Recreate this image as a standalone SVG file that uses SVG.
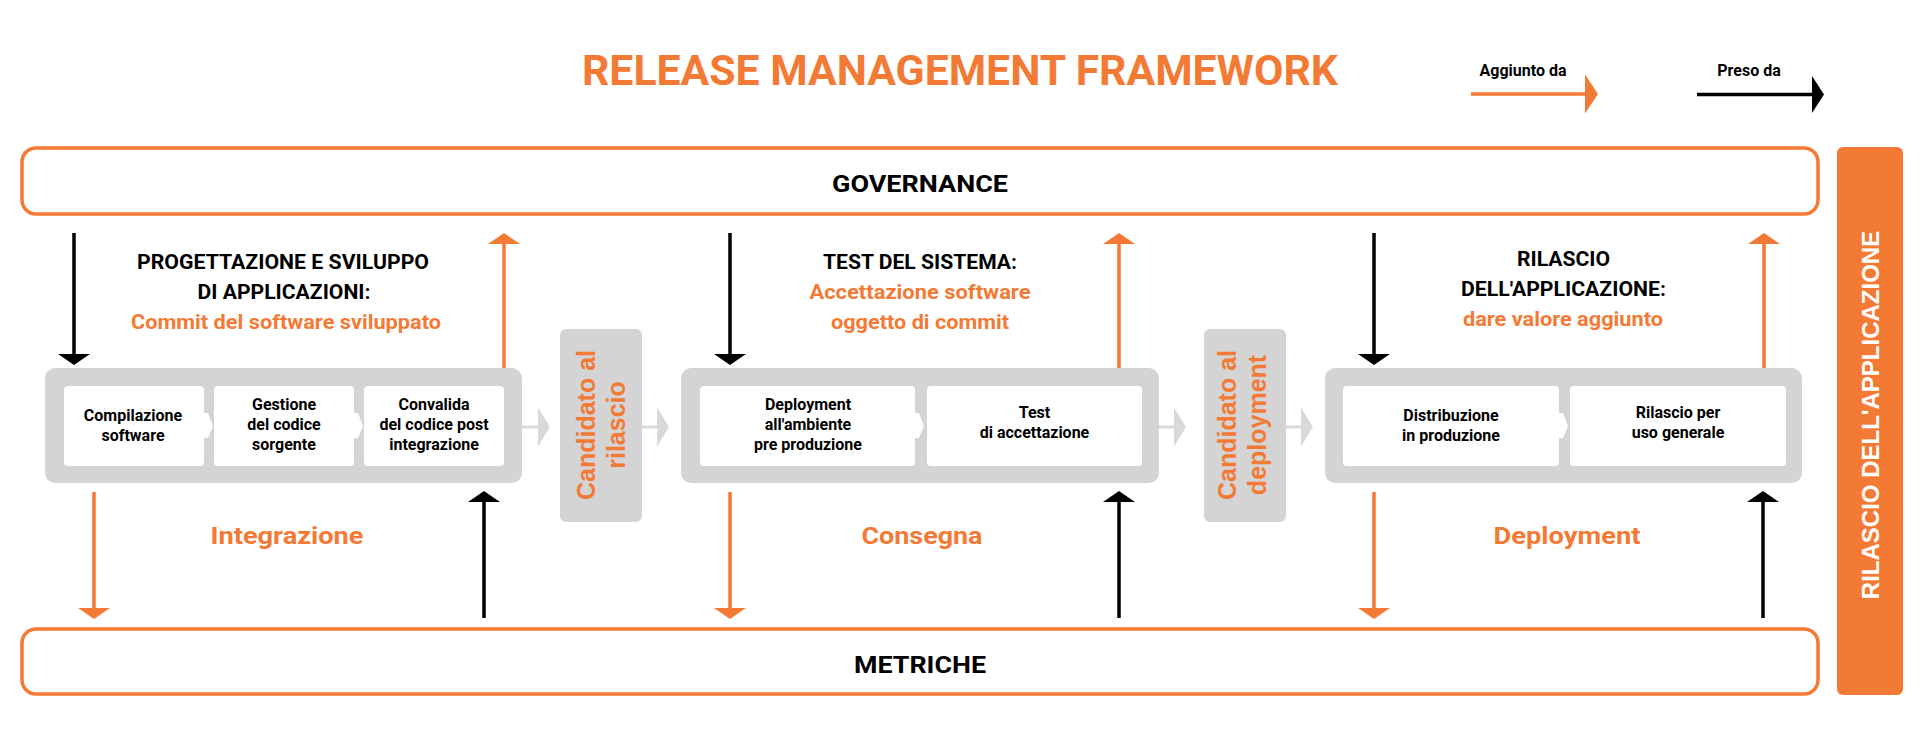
<svg xmlns="http://www.w3.org/2000/svg" width="1920" height="731" viewBox="0 0 1920 731">
<style>
.t{font-family:Roboto,"Liberation Sans",Arial,sans-serif;font-weight:700}
.a{font-family:"Liberation Sans",Arial,sans-serif;font-weight:700}
.o{fill:#F37A35}
.k{fill:#000}
.w{fill:#fff}
.band{fill:#fff;stroke:#F37A35;stroke-width:3.5}
.blk{fill:#D4D4D4}
.box{fill:#fff}
.ol{stroke:#F37A35;stroke-width:3.5;fill:none}
.kl{stroke:#000;stroke-width:3.5;fill:none}
.gl{stroke:#D9D9D9;stroke-width:3;fill:none}
.in{font-size:16px;text-anchor:middle}
.hd{font-size:20px;text-anchor:middle}
</style>
<defs>
<marker id="mO" markerUnits="userSpaceOnUse" markerWidth="11" markerHeight="32" refX="0" refY="16" orient="auto" overflow="visible"><path d="M0,0 L11,16 L0,32 Z" fill="#F37A35"/></marker>
<marker id="mK" markerUnits="userSpaceOnUse" markerWidth="11" markerHeight="32" refX="0" refY="16" orient="auto" overflow="visible"><path d="M0,0 L11,16 L0,32 Z" fill="#000"/></marker>
<marker id="mG" markerUnits="userSpaceOnUse" markerWidth="12" markerHeight="39" refX="0" refY="19.5" orient="auto" overflow="visible"><path d="M0,0 L12,19.5 L0,39 Z" fill="#D9D9D9"/></marker>
<marker id="mOL" markerUnits="userSpaceOnUse" markerWidth="13" markerHeight="39" refX="0" refY="19.5" orient="auto" overflow="visible"><path d="M0,0 L13,19.5 L0,39 Z" fill="#F37A35"/></marker>
<marker id="mKL" markerUnits="userSpaceOnUse" markerWidth="12" markerHeight="37" refX="0" refY="18.5" orient="auto" overflow="visible"><path d="M0,0 L12,18.5 L0,37 Z" fill="#000"/></marker>
<path id="chev" d="M0,0 L5,0 L10,13 L5,25 L0,25 Z" fill="#fff"/>
</defs>

<g id="title">
<text class="t o" x="960" y="85" font-size="42" text-anchor="middle" textLength="756" lengthAdjust="spacingAndGlyphs">RELEASE MANAGEMENT FRAMEWORK</text>
</g>

<g id="legend">
<text class="t k" x="1523" y="76" font-size="16" text-anchor="middle">Aggiunto da</text>
<text class="t k" x="1749" y="76" font-size="16" text-anchor="middle">Preso da</text>
</g>

<g id="governance">
<rect class="band" x="22" y="148" width="1796" height="66" rx="14"/>
<text class="t k" x="920" y="192" font-size="24" text-anchor="middle" textLength="176" lengthAdjust="spacingAndGlyphs">GOVERNANCE</text>
</g>

<g id="metriche">
<rect class="band" x="22" y="629" width="1796" height="65" rx="14"/>
<text class="t k" x="920" y="673" font-size="24" text-anchor="middle" textLength="132" lengthAdjust="spacingAndGlyphs">METRICHE</text>
</g>

<g id="rilascio-applicazione">
<rect class="o" x="1837" y="147" width="66" height="548" rx="6"/>
<text class="a w" transform="translate(1878.5,415) rotate(-90)" x="0" y="0" font-size="24" text-anchor="middle">RILASCIO DELL'APPLICAZIONE</text>
</g>

<g id="stage-integrazione">
<text class="t k hd" x="283" y="269" textLength="292" lengthAdjust="spacingAndGlyphs">PROGETTAZIONE E SVILUPPO</text>
<text class="t k hd" x="284" y="299" textLength="173" lengthAdjust="spacingAndGlyphs">DI APPLICAZIONI:</text>
<text class="t o hd" x="286" y="329" textLength="310" lengthAdjust="spacingAndGlyphs">Commit del software sviluppato</text>
<rect class="blk" x="45" y="368" width="477" height="115" rx="10"/>
<rect class="box" x="64" y="386" width="140" height="80" rx="4"/>
<rect class="box" x="214" y="386" width="140" height="80" rx="4"/>
<rect class="box" x="364" y="386" width="140" height="80" rx="4"/>
<use href="#chev" x="203" y="413"/>
<use href="#chev" x="353" y="413"/>
<text class="t k in" x="133" y="421">Compilazione</text>
<text class="t k in" x="133" y="441">software</text>
<text class="t k in" x="284" y="410">Gestione</text>
<text class="t k in" x="284" y="430">del codice</text>
<text class="t k in" x="284" y="450">sorgente</text>
<text class="t k in" x="434" y="410">Convalida</text>
<text class="t k in" x="434" y="430">del codice post</text>
<text class="t k in" x="434" y="450">integrazione</text>
<text class="t o" x="287" y="544" font-size="24" text-anchor="middle" textLength="153" lengthAdjust="spacingAndGlyphs">Integrazione</text>
</g>

<g id="candidato-rilascio">
<rect class="blk" x="560" y="329" width="82" height="193" rx="6"/>
<g transform="translate(595,425) rotate(-90)">
<text class="a o" x="0" y="0" font-size="25" text-anchor="middle">Candidato al</text>
<text class="a o" x="0" y="30" font-size="25" text-anchor="middle">rilascio</text>
</g>
</g>

<g id="stage-consegna">
<text class="t k hd" x="920" y="269" textLength="194" lengthAdjust="spacingAndGlyphs">TEST DEL SISTEMA:</text>
<text class="t o hd" x="920" y="299" textLength="221" lengthAdjust="spacingAndGlyphs">Accettazione software</text>
<text class="t o hd" x="920" y="329" textLength="178" lengthAdjust="spacingAndGlyphs">oggetto di commit</text>
<rect class="blk" x="681" y="368" width="478" height="115" rx="10"/>
<rect class="box" x="700" y="386" width="215" height="80" rx="4"/>
<rect class="box" x="927" y="386" width="215" height="80" rx="4"/>
<use href="#chev" x="914" y="413"/>
<text class="t k in" x="808" y="410">Deployment</text>
<text class="t k in" x="808" y="430">all'ambiente</text>
<text class="t k in" x="808" y="450">pre produzione</text>
<text class="t k in" x="1034.5" y="418">Test</text>
<text class="t k in" x="1034.5" y="438">di accettazione</text>
<text class="t o" x="922" y="544" font-size="24" text-anchor="middle" textLength="121" lengthAdjust="spacingAndGlyphs">Consegna</text>
</g>

<g id="candidato-deployment">
<rect class="blk" x="1204" y="329" width="82" height="193" rx="6"/>
<g transform="translate(1236,425) rotate(-90)">
<text class="a o" x="0" y="0" font-size="25" text-anchor="middle">Candidato al</text>
<text class="a o" x="0" y="30" font-size="25" text-anchor="middle">deployment</text>
</g>
</g>

<g id="stage-deployment">
<text class="t k hd" x="1563.5" y="266" textLength="93" lengthAdjust="spacingAndGlyphs">RILASCIO</text>
<text class="t k hd" x="1563.5" y="296" textLength="205" lengthAdjust="spacingAndGlyphs">DELL'APPLICAZIONE:</text>
<text class="t o hd" x="1563" y="326" textLength="200" lengthAdjust="spacingAndGlyphs">dare valore aggiunto</text>
<rect class="blk" x="1325" y="368" width="477" height="115" rx="10"/>
<rect class="box" x="1343" y="386" width="216" height="80" rx="4"/>
<rect class="box" x="1570" y="386" width="216" height="80" rx="4"/>
<use href="#chev" x="1558" y="413"/>
<text class="t k in" x="1451" y="421">Distribuzione</text>
<text class="t k in" x="1451" y="441">in produzione</text>
<text class="t k in" x="1678" y="418">Rilascio per</text>
<text class="t k in" x="1678" y="438">uso generale</text>
<text class="t o" x="1567" y="544" font-size="24" text-anchor="middle" textLength="147" lengthAdjust="spacingAndGlyphs">Deployment</text>
</g>

<g id="connectors">
<line class="ol" x1="1471" y1="94" x2="1585" y2="94" marker-end="url(#mOL)"/>
<line class="kl" x1="1697" y1="94.5" x2="1812" y2="94.5" marker-end="url(#mKL)"/>

<line class="kl" x1="74" y1="233" x2="74" y2="354" marker-end="url(#mK)"/>
<line class="ol" x1="504" y1="368" x2="504" y2="244" marker-end="url(#mO)"/>
<line class="ol" x1="94" y1="492" x2="94" y2="608" marker-end="url(#mO)"/>
<line class="kl" x1="484" y1="618" x2="484" y2="502" marker-end="url(#mK)"/>

<line class="kl" x1="730" y1="233" x2="730" y2="354" marker-end="url(#mK)"/>
<line class="ol" x1="1119" y1="368" x2="1119" y2="244" marker-end="url(#mO)"/>
<line class="ol" x1="730" y1="492" x2="730" y2="608" marker-end="url(#mO)"/>
<line class="kl" x1="1119" y1="618" x2="1119" y2="502" marker-end="url(#mK)"/>

<line class="kl" x1="1374" y1="233" x2="1374" y2="354" marker-end="url(#mK)"/>
<line class="ol" x1="1764" y1="368" x2="1764" y2="244" marker-end="url(#mO)"/>
<line class="ol" x1="1374" y1="492" x2="1374" y2="608" marker-end="url(#mO)"/>
<line class="kl" x1="1763" y1="618" x2="1763" y2="502" marker-end="url(#mK)"/>

<line class="gl" x1="522" y1="427" x2="538" y2="427" marker-end="url(#mG)"/>
<line class="gl" x1="642" y1="427" x2="657" y2="427" marker-end="url(#mG)"/>
<line class="gl" x1="1159" y1="427" x2="1174" y2="427" marker-end="url(#mG)"/>
<line class="gl" x1="1286" y1="427" x2="1301" y2="427" marker-end="url(#mG)"/>
</g>
</svg>
